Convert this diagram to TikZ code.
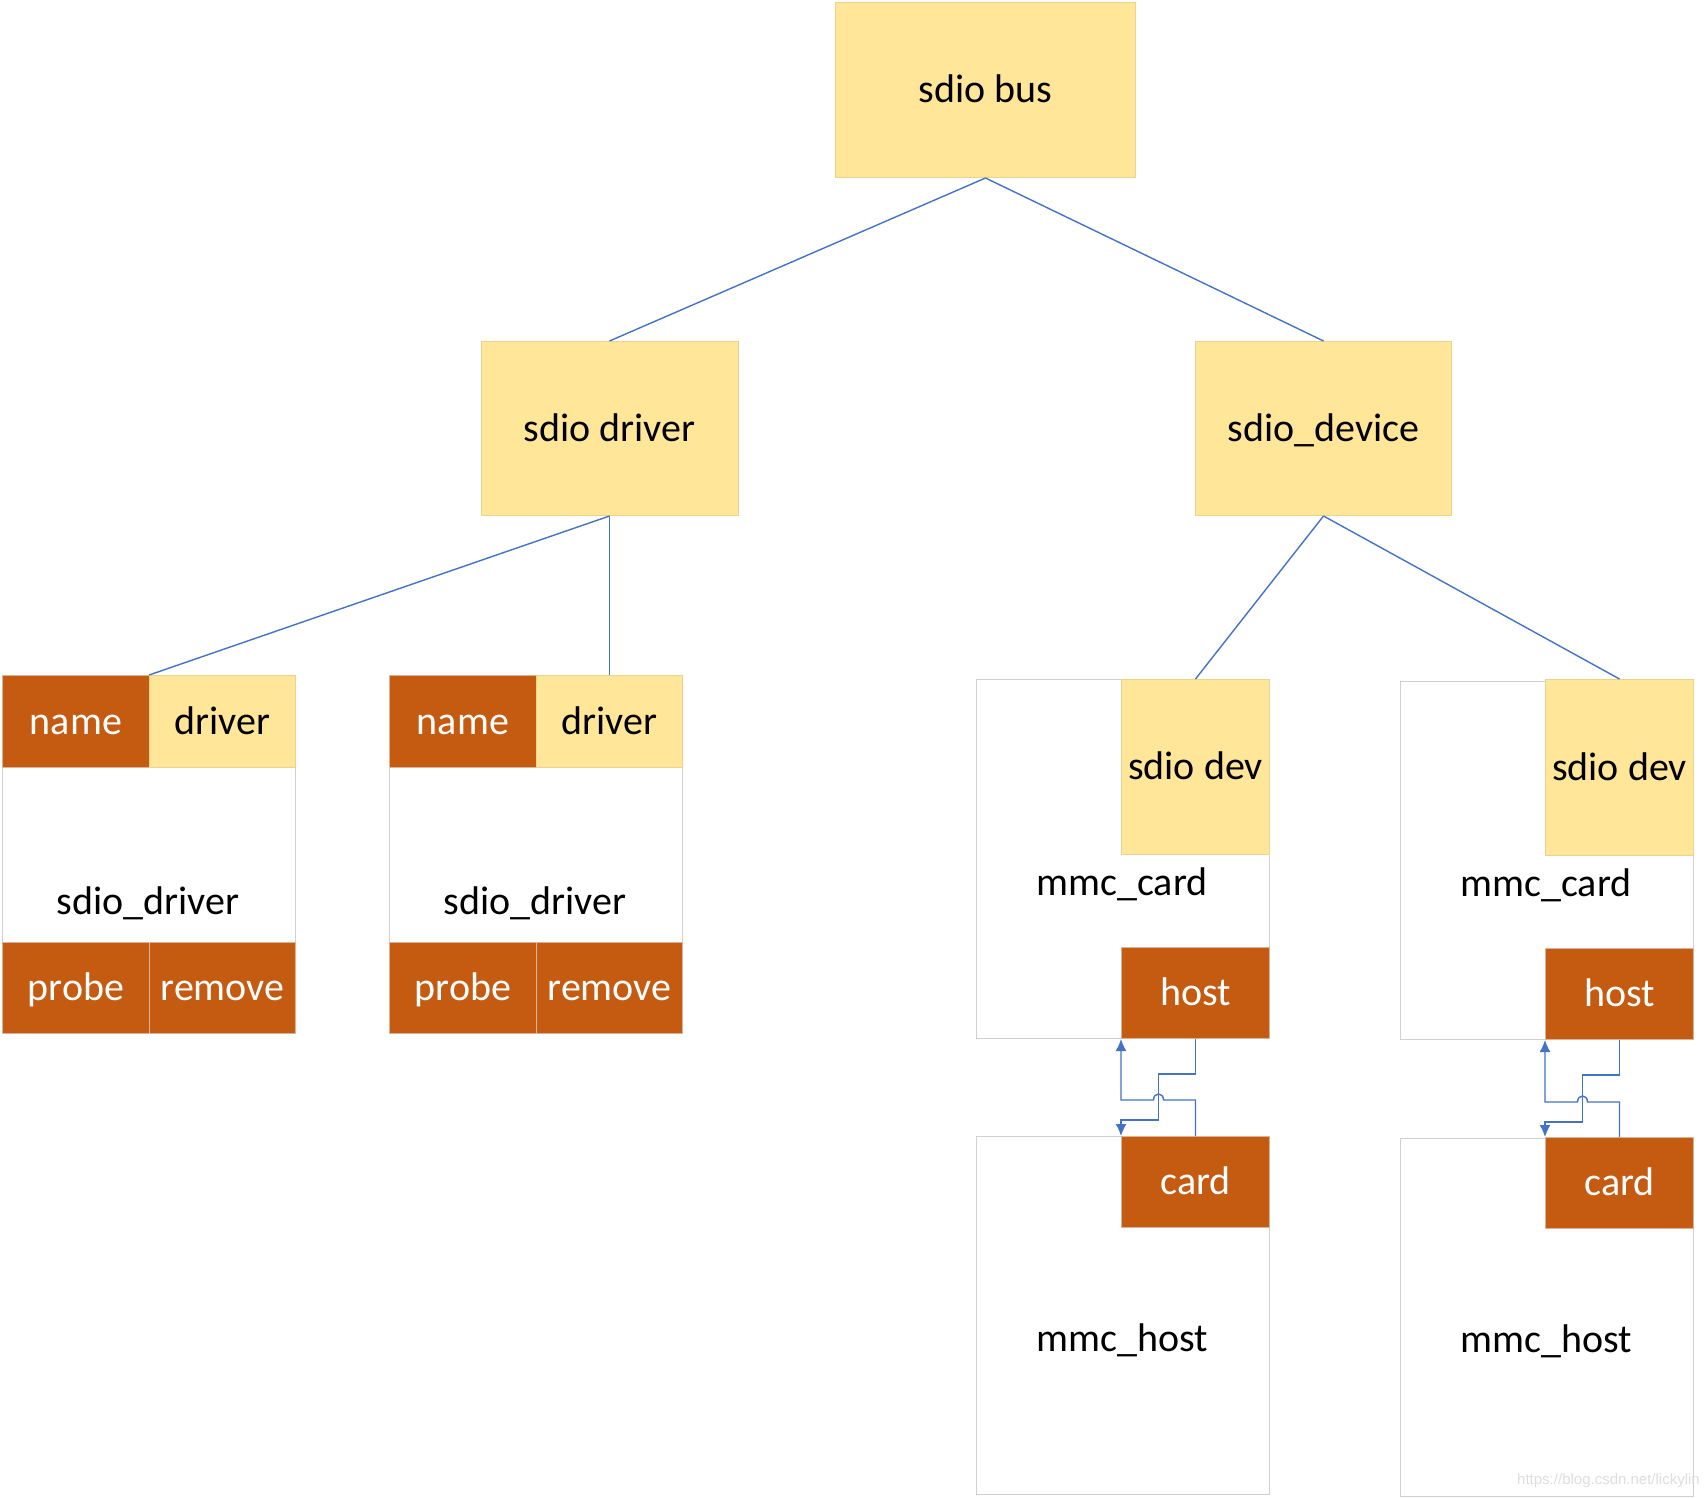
\documentclass[tikz,border=0pt]{standalone}
\usepackage{fontspec}
\setmainfont{Carlito}
\newfontfamily\wmfont{Liberation Sans}
\usetikzlibrary{arrows.meta}
\definecolor{gold}{HTML}{FFE699}
\definecolor{goldline}{HTML}{EAD28F}
\definecolor{rust}{HTML}{C55A11}
\definecolor{rustline}{HTML}{D8B49A}
\definecolor{linkblue}{HTML}{4472C4}
\definecolor{frame}{HTML}{D0D0D0}

\begin{document}
\begin{tikzpicture}[
    x=1pt,y=-1pt,
    every node/.style={inner sep=0pt,text height=31pt,text depth=6pt,font=\fontsize{40pt}{46pt}\selectfont},
    ybox/.style={anchor=north west,draw=goldline,fill=gold,line width=1pt},
    obox/.style={anchor=north west,draw=rustline,fill=rust,text=white,line width=1pt},
    wbox/.style={anchor=north west,draw=frame,fill=white,line width=1.2pt},
    link/.style={>={Latex[length=12pt,width=11pt]},draw=linkblue,line width=1.4pt},
]
    \useasboundingbox (0,0) rectangle (1708,1498);

    % bus level
    \node[ybox,minimum width=300pt,minimum height=175pt] (bus) at (835,2) {sdio bus};
    \node[ybox,minimum width=257pt,minimum height=174pt] (drv) at (480.5,341) {sdio driver};
    \node[ybox,minimum width=256pt,minimum height=174pt] (dev) at (1195,341) {sdio\_device};

    % sdio_driver structs
    \node[wbox,minimum width=293pt,minimum height=358pt] (sd1) at (2,675) {};
    \node (sd1l) at (148,902) {sdio\_driver};
    \node[obox,minimum width=147pt,minimum height=92pt] (name1) at (2,675) {name};
    \node[ybox,minimum width=146pt,minimum height=92pt] (drvf1) at (149,675) {driver};
    \node[obox,minimum width=147pt,minimum height=91pt] (probe1) at (2,942) {probe};
    \node[obox,minimum width=146pt,minimum height=91pt] (rm1) at (149,942) {remove};

    \node[wbox,minimum width=293pt,minimum height=358pt] (sd2) at (389,675) {};
    \node (sd2l) at (535,902) {sdio\_driver};
    \node[obox,minimum width=147pt,minimum height=92pt] (name2) at (389,675) {name};
    \node[ybox,minimum width=146pt,minimum height=92pt] (drvf2) at (536,675) {driver};
    \node[obox,minimum width=147pt,minimum height=91pt] (probe2) at (389,942) {probe};
    \node[obox,minimum width=146pt,minimum height=91pt] (rm2) at (536,942) {remove};

    % mmc_card / mmc_host pairs
    \node[wbox,minimum width=293pt,minimum height=359pt] (card1) at (976,679) {};
    \node (card1l) at (1122,883) {mmc\_card};
    \node[ybox,minimum width=148pt,minimum height=175pt] (sdev1) at (1121,679) {sdio dev};
    \node[obox,minimum width=148pt,minimum height=91pt] (host1) at (1121,947) {host};
    \node[wbox,minimum width=293pt,minimum height=358pt] (mh1) at (976,1136) {};
    \node (mh1l) at (1122,1339) {mmc\_host};
    \node[obox,minimum width=148pt,minimum height=91pt] (cf1) at (1121,1136) {card};

    \node[wbox,minimum width=293pt,minimum height=358pt] (card2) at (1400,681) {};
    \node (card2l) at (1546,884) {mmc\_card};
    \node[ybox,minimum width=148pt,minimum height=176pt] (sdev2) at (1545,679) {sdio dev};
    \node[obox,minimum width=148pt,minimum height=91pt] (host2) at (1545,948) {host};
    \node[wbox,minimum width=293pt,minimum height=358pt] (mh2) at (1400,1138) {};
    \node (mh2l) at (1546,1340) {mmc\_host};
    \node[obox,minimum width=148pt,minimum height=91pt] (cf2) at (1545,1137) {card};

    % tree lines
    \draw[link] (bus.south) -- (drv.north);
    \draw[link] (bus.south) -- (dev.north);
    \draw[link] (drv.south) -- (sd1.north);
    \draw[link] (drv.south) -- (drvf2.north);
    \draw[link] (dev.south) -- (sdev1.north);
    \draw[link] (dev.south) -- (sdev2.north);

    % host <-> card pointers
    \draw[link,->] (host1.south) -- ++(0,35) -- ++(-37,0) -- ++(0,46) -| (cf1.north west);
    \draw[link,->] (cf1.north) -- ++(0,-36) -- ++(-32,0)
        .. controls ++(0,-8) and ++(0,-8) .. ++(-10,0) -| (host1.south west);
    \draw[link,->] (host2.south) -- ++(0,35) -- ++(-37,0) -- ++(0,47) -| (cf2.north west);
    \draw[link,->] (cf2.north) -- ++(0,-35) -- ++(-32,0)
        .. controls ++(0,-8) and ++(0,-8) .. ++(-10,0) -| (host2.south west);

    \node[anchor=east,text=black!13,text height=,text depth=,font=\wmfont\fontsize{15pt}{18pt}\selectfont] (wm) at (1700,1481) {https://blog.csdn.net/lickylin};
\end{tikzpicture}
\end{document}
